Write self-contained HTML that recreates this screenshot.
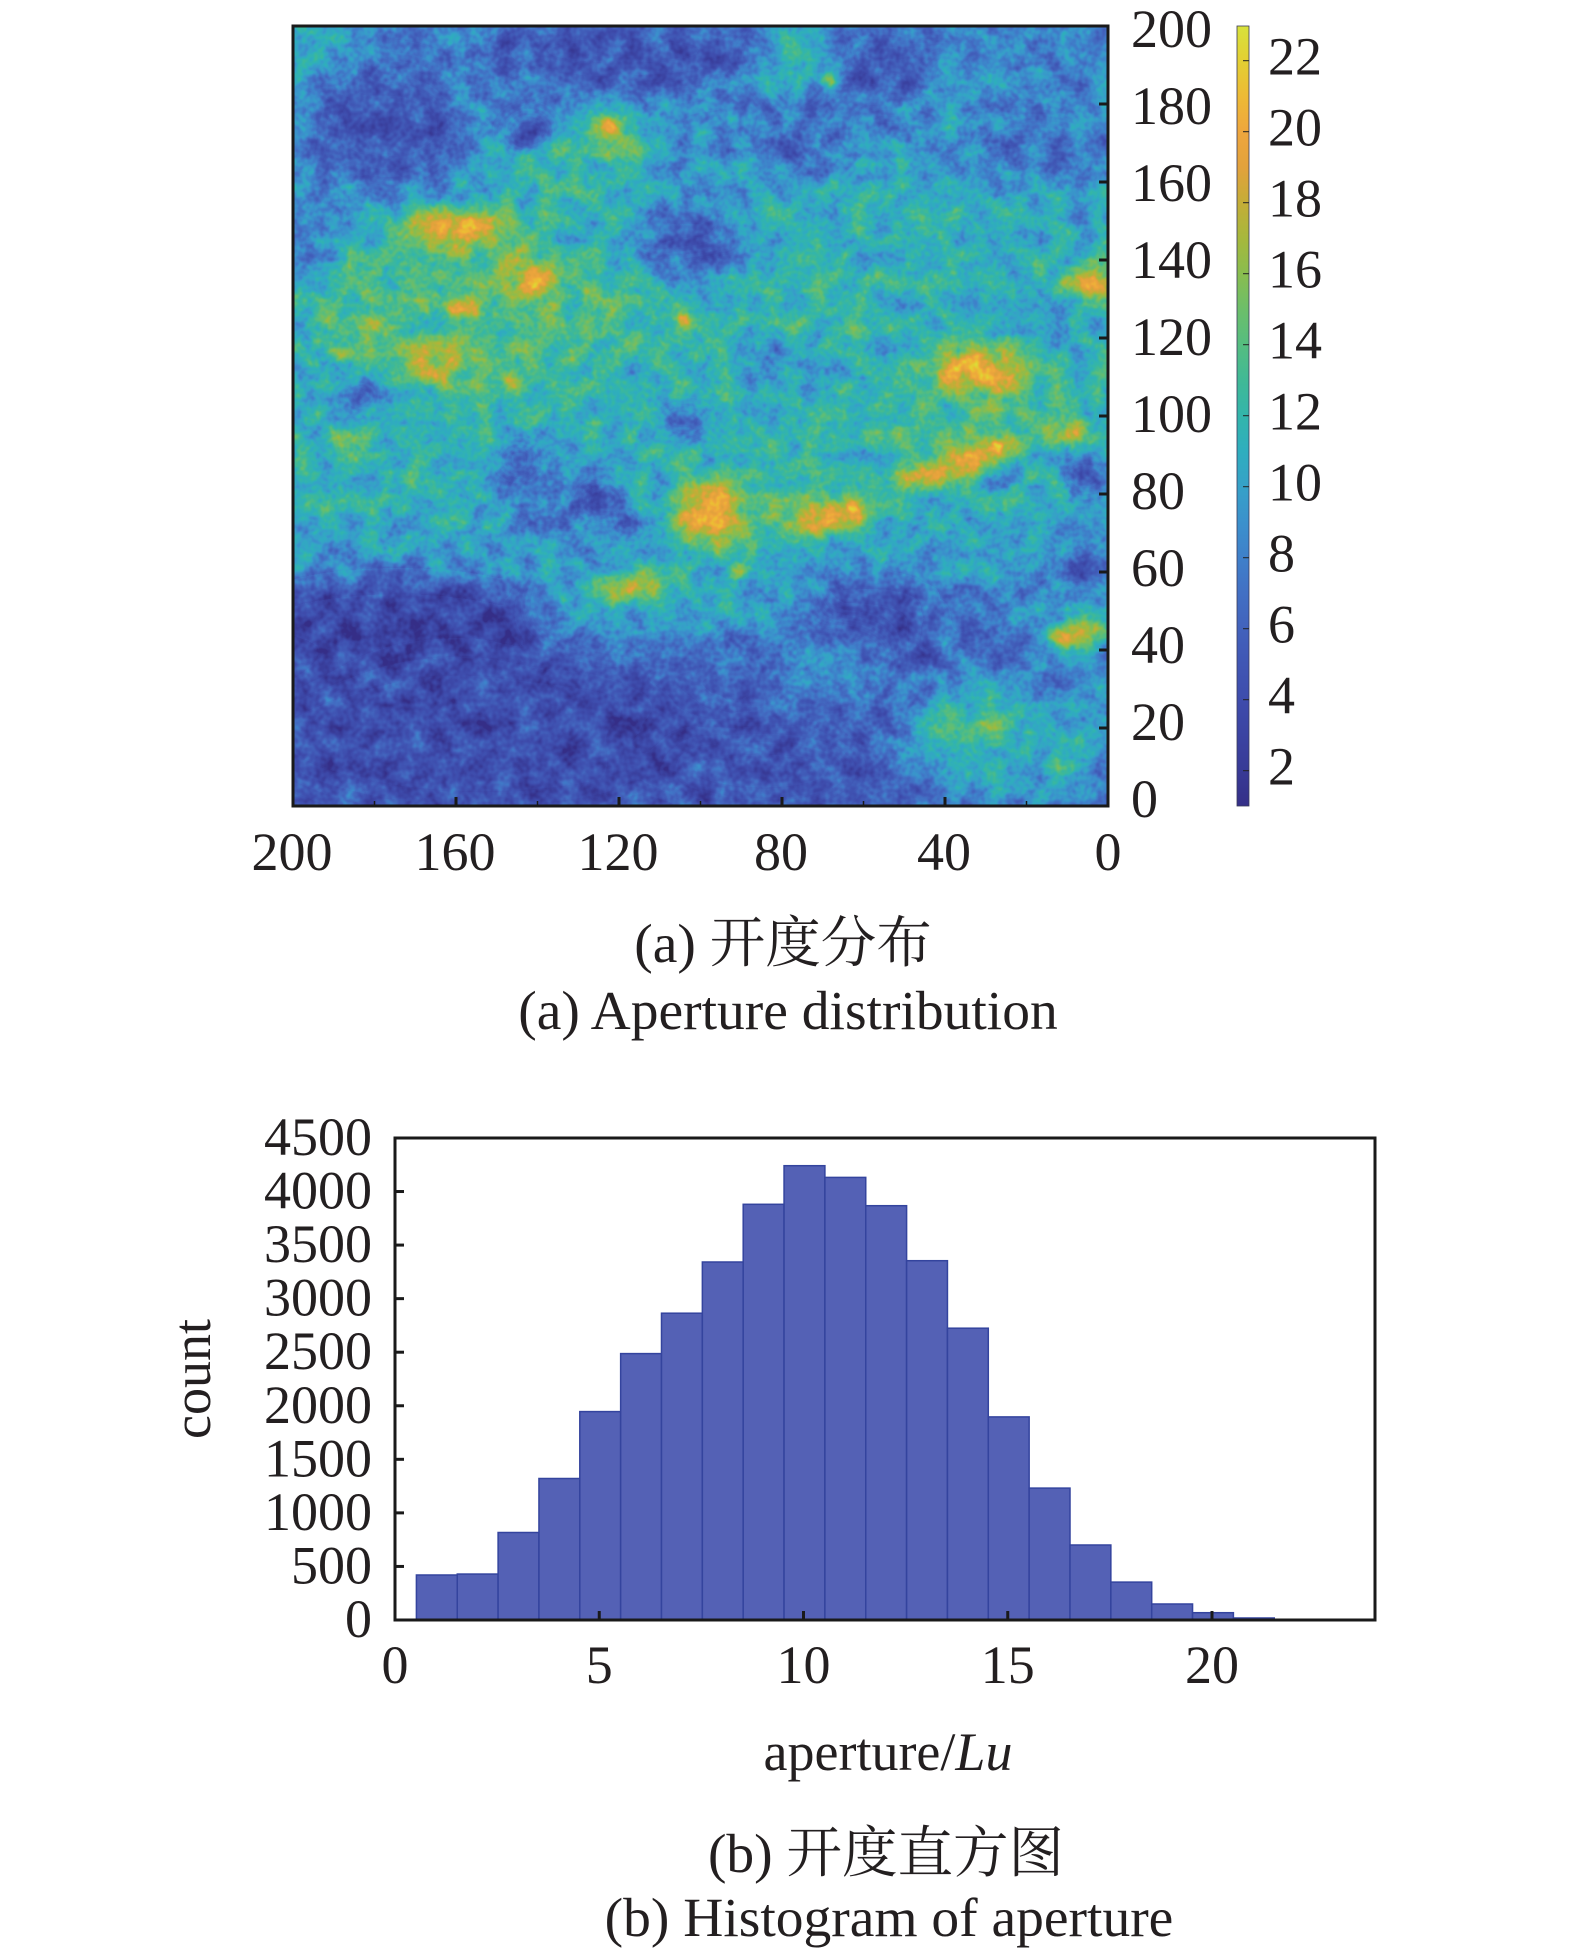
<!DOCTYPE html>
<html>
<head>
<meta charset="utf-8">
<style>
  html, body { margin:0; padding:0; background:#ffffff; }
  body { width:1575px; height:1954px; overflow:hidden; }
  svg { display:block; }
  text { font-family: "Liberation Serif", "Noto Serif CJK SC", serif; font-size:54px; fill:#231f20; }
  text.cap { font-size:55.5px; }
</style>
</head>
<body>
<svg width="1575" height="1954" viewBox="0 0 1575 1954" xmlns="http://www.w3.org/2000/svg">
  <defs>
    <linearGradient id="baseg" gradientUnits="userSpaceOnUse" x1="0" y1="0" x2="0" y2="780">
      <stop offset="0" stop-color="#515151"/>
      <stop offset="0.22" stop-color="#686868"/>
      <stop offset="0.33" stop-color="#7a7a7a"/>
      <stop offset="0.6" stop-color="#7a7a7a"/>
      <stop offset="0.72" stop-color="#5d5d5d"/>
      <stop offset="0.8" stop-color="#3a3a3a"/>
      <stop offset="1" stop-color="#3a3a3a"/>
    </linearGradient>
    <filter id="bA" filterUnits="userSpaceOnUse" x="-100" y="-100" width="1015" height="980"><feGaussianBlur stdDeviation="20"/></filter>
    <filter id="bB" filterUnits="userSpaceOnUse" x="-100" y="-100" width="1015" height="980"><feGaussianBlur stdDeviation="8"/></filter>
    <filter id="bC" filterUnits="userSpaceOnUse" x="-100" y="-100" width="1015" height="980"><feGaussianBlur stdDeviation="4.5"/></filter>
    <filter id="bD" filterUnits="userSpaceOnUse" x="-100" y="-100" width="1015" height="980"><feGaussianBlur stdDeviation="2.5"/></filter>
    <filter id="cm" filterUnits="userSpaceOnUse" x="0" y="0" width="815" height="780" color-interpolation-filters="sRGB">
      <feTurbulence type="fractalNoise" baseFrequency="0.045" numOctaves="3" seed="7" result="n1"/>
      <feColorMatrix in="n1" type="matrix" values="1 0 0 0 0  1 0 0 0 0  1 0 0 0 0  0 0 0 0 1" result="g1"/>
      <feTurbulence type="fractalNoise" baseFrequency="0.22" numOctaves="1" seed="2" result="n2"/>
      <feColorMatrix in="n2" type="matrix" values="0 1 0 0 0  0 1 0 0 0  0 1 0 0 0  0 0 0 0 1" result="g2"/>
      <feComposite in="SourceGraphic" in2="g1" operator="arithmetic" k1="0" k2="1" k3="0.45" k4="-0.225" result="s1"/>
      <feComposite in="s1" in2="g2" operator="arithmetic" k1="0" k2="1" k3="0.18" k4="-0.09" result="s2"/>
      <feComponentTransfer in="s2">
        <feFuncR type="table" tableValues="0.208 0.220 0.231 0.243 0.251 0.259 0.259 0.247 0.231 0.212 0.184 0.200 0.251 0.333 0.424 0.537 0.651 0.769 0.886 0.933 0.929 0.890 0.847"/>
        <feFuncG type="table" tableValues="0.184 0.227 0.263 0.298 0.337 0.384 0.439 0.502 0.569 0.631 0.682 0.710 0.725 0.741 0.745 0.741 0.722 0.678 0.635 0.651 0.729 0.812 0.886"/>
        <feFuncB type="table" tableValues="0.533 0.588 0.635 0.675 0.706 0.737 0.769 0.792 0.800 0.784 0.745 0.671 0.588 0.502 0.416 0.310 0.235 0.216 0.235 0.239 0.208 0.200 0.231"/>
        <feFuncA type="identity"/>
      </feComponentTransfer>
    </filter>
    <linearGradient id="cbar" gradientUnits="userSpaceOnUse" x1="0" y1="806" x2="0" y2="26">
      <stop offset="0.000" stop-color="#352f88"/>
      <stop offset="0.045" stop-color="#383a96"/>
      <stop offset="0.091" stop-color="#3b43a2"/>
      <stop offset="0.136" stop-color="#3e4cac"/>
      <stop offset="0.182" stop-color="#4056b4"/>
      <stop offset="0.227" stop-color="#4262bc"/>
      <stop offset="0.273" stop-color="#4270c4"/>
      <stop offset="0.318" stop-color="#3f80ca"/>
      <stop offset="0.364" stop-color="#3b91cc"/>
      <stop offset="0.409" stop-color="#36a1c8"/>
      <stop offset="0.455" stop-color="#2faebe"/>
      <stop offset="0.500" stop-color="#33b5ab"/>
      <stop offset="0.545" stop-color="#40b996"/>
      <stop offset="0.591" stop-color="#55bd80"/>
      <stop offset="0.636" stop-color="#6cbe6a"/>
      <stop offset="0.682" stop-color="#89bd4f"/>
      <stop offset="0.727" stop-color="#a6b83c"/>
      <stop offset="0.773" stop-color="#c4ad37"/>
      <stop offset="0.818" stop-color="#e2a23c"/>
      <stop offset="0.864" stop-color="#eea63d"/>
      <stop offset="0.909" stop-color="#edba35"/>
      <stop offset="0.955" stop-color="#e3cf33"/>
      <stop offset="1.000" stop-color="#d8e23b"/>
    </linearGradient>
  </defs>

  <rect x="0" y="0" width="1575" height="1954" fill="#ffffff"/>

  <!-- ===== Heatmap ===== -->
  <g transform="translate(293,26)">
    <g filter="url(#cm)">
      <rect x="-60" y="-60" width="935" height="900" fill="url(#baseg)"/>
      <g filter="url(#bA)">
        <!-- mid / green regions -->
        <ellipse cx="280" cy="140" rx="80" ry="45" fill="#858585"/>
        <ellipse cx="505" cy="30" rx="40" ry="30" fill="#8b8b8b"/>
        <ellipse cx="640" cy="50" rx="45" ry="20" fill="#808080"/>
        <ellipse cx="630" cy="180" rx="40" ry="20" fill="#858585"/>
        <ellipse cx="20" cy="15" rx="35" ry="25" fill="#808080"/>
        <ellipse cx="620" cy="190" rx="170" ry="35" fill="#7a7a7a"/>
        <ellipse cx="180" cy="285" rx="170" ry="85" fill="#919191"/>
        <ellipse cx="450" cy="300" rx="120" ry="50" fill="#858585"/>
        <ellipse cx="690" cy="390" rx="110" ry="60" fill="#8b8b8b"/>
        <ellipse cx="480" cy="470" rx="110" ry="45" fill="#8b8b8b"/>
        <ellipse cx="380" cy="575" rx="130" ry="35" fill="#747474"/>
        <ellipse cx="720" cy="710" rx="110" ry="70" fill="#747474"/>
        <ellipse cx="540" cy="640" rx="50" ry="25" fill="#6e6e6e"/>
        <ellipse cx="790" cy="610" rx="40" ry="25" fill="#979797"/>
        <!-- dark regions -->
        <ellipse cx="330" cy="25" rx="150" ry="40" fill="#2e2e2e"/>
        <ellipse cx="95" cy="100" rx="80" ry="60" fill="#2e2e2e"/>
        <ellipse cx="590" cy="40" rx="65" ry="40" fill="#343434"/>
        <ellipse cx="740" cy="125" rx="80" ry="40" fill="#464646"/>
        <ellipse cx="510" cy="115" rx="45" ry="40" fill="#3a3a3a"/>
        <ellipse cx="15" cy="205" rx="25" ry="65" fill="#464646"/>
        <ellipse cx="400" cy="225" rx="55" ry="35" fill="#232323"/>
        <ellipse cx="270" cy="470" rx="70" ry="35" fill="#404040"/>
        <ellipse cx="795" cy="545" rx="35" ry="30" fill="#2e2e2e"/>
        <ellipse cx="745" cy="300" rx="60" ry="20" fill="#5d5d5d"/>
        <ellipse cx="480" cy="335" rx="50" ry="28" fill="#575757"/>
        <ellipse cx="60" cy="375" rx="60" ry="22" fill="#5d5d5d"/>
        <ellipse cx="790" cy="450" rx="25" ry="18" fill="#404040"/>
        <ellipse cx="105" cy="595" rx="150" ry="40" fill="#171717"/>
        <ellipse cx="190" cy="710" rx="230" ry="80" fill="#282828"/>
        <ellipse cx="382" cy="720" rx="55" ry="35" fill="#171717"/>
        <ellipse cx="575" cy="592" rx="72" ry="30" fill="#1d1d1d"/>
        <ellipse cx="470" cy="745" rx="110" ry="45" fill="#2e2e2e"/>
        <ellipse cx="755" cy="657" rx="30" ry="18" fill="#2e2e2e"/>
      </g>
      <g filter="url(#bB)">
        <!-- halos -->
        <ellipse cx="170" cy="205" rx="70" ry="25" fill="#aeaeae"/>
        <ellipse cx="235" cy="255" rx="35" ry="28" fill="#aeaeae"/>
        <ellipse cx="150" cy="337" rx="45" ry="32" fill="#a2a2a2"/>
        <ellipse cx="690" cy="345" rx="55" ry="32" fill="#aeaeae"/>
        <ellipse cx="670" cy="435" rx="70" ry="20" fill="#aeaeae" transform="rotate(-15 670 435)"/>
        <ellipse cx="420" cy="490" rx="42" ry="40" fill="#aeaeae"/>
        <ellipse cx="535" cy="490" rx="60" ry="18" fill="#a8a8a8" transform="rotate(-10 535 490)"/>
        <ellipse cx="800" cy="257" rx="30" ry="20" fill="#aeaeae"/>
        <ellipse cx="340" cy="560" rx="45" ry="16" fill="#a2a2a2"/>
        <ellipse cx="320" cy="110" rx="22" ry="30" fill="#a2a2a2"/>
        <ellipse cx="680" cy="700" rx="55" ry="12" fill="#a2a2a2"/>
        <!-- dark spots -->
        <ellipse cx="235" cy="105" rx="25" ry="20" fill="#2e2e2e"/>
        <ellipse cx="390" cy="393" rx="25" ry="13" fill="#292929"/>
        <ellipse cx="68" cy="370" rx="15" ry="12" fill="#2e2e2e"/>
        <ellipse cx="226" cy="434" rx="18" ry="14" fill="#292929"/>
        <ellipse cx="310" cy="474" rx="22" ry="13" fill="#292929"/>
        <ellipse cx="335" cy="498" rx="12" ry="12" fill="#2e2e2e"/>
        <ellipse cx="792" cy="450" rx="22" ry="14" fill="#292929"/>
        <ellipse cx="710" cy="449" rx="18" ry="9" fill="#2e2e2e"/>
      </g>
      <g filter="url(#bC)">
        <ellipse cx="165" cy="203" rx="38" ry="12" fill="#d6d6d6"/>
        <ellipse cx="240" cy="255" rx="17" ry="15" fill="#d1d1d1"/>
        <ellipse cx="172" cy="282" rx="18" ry="10" fill="#cbcbcb"/>
        <ellipse cx="320" cy="103" rx="8" ry="12" fill="#d1d1d1"/>
        <ellipse cx="145" cy="337" rx="25" ry="18" fill="#bfbfbf"/>
        <ellipse cx="220" cy="352" rx="10" ry="10" fill="#c5c5c5"/>
        <ellipse cx="687" cy="345" rx="32" ry="18" fill="#d6d6d6"/>
        <ellipse cx="670" cy="435" rx="48" ry="10" fill="#d1d1d1" transform="rotate(-15 670 435)"/>
        <ellipse cx="415" cy="485" rx="25" ry="25" fill="#d6d6d6"/>
        <ellipse cx="530" cy="492" rx="40" ry="10" fill="#d1d1d1" transform="rotate(-10 530 492)"/>
        <ellipse cx="805" cy="257" rx="18" ry="11" fill="#d6d6d6"/>
        <ellipse cx="343" cy="560" rx="28" ry="8" fill="#b9b9b9"/>
        <ellipse cx="785" cy="608" rx="28" ry="14" fill="#b9b9b9"/>
        <circle cx="536" cy="55" r="6" fill="#c5c5c5"/>
        <circle cx="567" cy="140" r="7" fill="#bfbfbf"/>
        <circle cx="390" cy="294" r="6" fill="#d1d1d1"/>
        <circle cx="343" cy="275" r="6" fill="#c5c5c5"/>
        <ellipse cx="770" cy="405" rx="20" ry="12" fill="#b9b9b9"/>
        <ellipse cx="57" cy="412" rx="25" ry="9" fill="#b4b4b4"/>
        <ellipse cx="55" cy="328" rx="22" ry="5" fill="#aeaeae"/>
        <circle cx="447" cy="545" r="8" fill="#b9b9b9"/>
        <circle cx="627" cy="340" r="6" fill="#d1d1d1"/>
      </g>
      <g filter="url(#bD)">
        <circle cx="177" cy="200" r="7" fill="#eeeeee"/>
        <circle cx="700" cy="348" r="8" fill="#f3f3f3"/>
        <circle cx="702" cy="422" r="6" fill="#eeeeee"/>
        <circle cx="425" cy="495" r="7" fill="#e8e8e8"/>
        <circle cx="560" cy="482" r="6" fill="#e8e8e8"/>
        <circle cx="240" cy="258" r="5" fill="#dcdcdc"/>
        <circle cx="320" cy="100" r="4" fill="#e2e2e2"/>
      </g>
    </g>
  </g>
  <!-- heatmap frame & ticks -->
  <rect x="293" y="26" width="815" height="780" fill="none" stroke="#1a1a1a" stroke-width="3"/>
  <g stroke="#1a1a1a" stroke-width="3">
    <line x1="456" y1="806" x2="456" y2="797"/>
    <line x1="619" y1="806" x2="619" y2="797"/>
    <line x1="782" y1="806" x2="782" y2="797"/>
    <line x1="945" y1="806" x2="945" y2="797"/>
    <line x1="1108" y1="728" x2="1099" y2="728"/>
    <line x1="1108" y1="650" x2="1099" y2="650"/>
    <line x1="1108" y1="572" x2="1099" y2="572"/>
    <line x1="1108" y1="494" x2="1099" y2="494"/>
    <line x1="1108" y1="416" x2="1099" y2="416"/>
    <line x1="1108" y1="338" x2="1099" y2="338"/>
    <line x1="1108" y1="260" x2="1099" y2="260"/>
    <line x1="1108" y1="182" x2="1099" y2="182"/>
    <line x1="1108" y1="104" x2="1099" y2="104"/>
  </g>
  <g stroke="#1a1a1a" stroke-width="1.5">
    <line x1="374.5" y1="806" x2="374.5" y2="801"/>
    <line x1="537.5" y1="806" x2="537.5" y2="801"/>
    <line x1="700.5" y1="806" x2="700.5" y2="801"/>
    <line x1="863.5" y1="806" x2="863.5" y2="801"/>
    <line x1="1026.5" y1="806" x2="1026.5" y2="801"/>
  </g>
  <!-- right axis labels -->
  <g text-anchor="start">
    <text x="1131" y="817">0</text>
    <text x="1131" y="740">20</text>
    <text x="1131" y="663">40</text>
    <text x="1131" y="586">60</text>
    <text x="1131" y="509">80</text>
    <text x="1131" y="432">100</text>
    <text x="1131" y="355">120</text>
    <text x="1131" y="278">140</text>
    <text x="1131" y="201">160</text>
    <text x="1131" y="124">180</text>
    <text x="1131" y="47">200</text>
  </g>
  <!-- bottom axis labels -->
  <g text-anchor="middle">
    <text x="292" y="870">200</text>
    <text x="455" y="870">160</text>
    <text x="618" y="870">120</text>
    <text x="781" y="870">80</text>
    <text x="944" y="870">40</text>
    <text x="1108" y="870">0</text>
  </g>

  <!-- colorbar -->
  <rect x="1237" y="26" width="12" height="780" fill="url(#cbar)" stroke="#3a3a5a" stroke-width="0.8"/>
  <g stroke="#222" stroke-width="1">
    <line x1="1243" y1="770.7" x2="1249" y2="770.7"/>
    <line x1="1243" y1="699.7" x2="1249" y2="699.7"/>
    <line x1="1243" y1="628.7" x2="1249" y2="628.7"/>
    <line x1="1243" y1="557.7" x2="1249" y2="557.7"/>
    <line x1="1243" y1="486.7" x2="1249" y2="486.7"/>
    <line x1="1243" y1="415.7" x2="1249" y2="415.7"/>
    <line x1="1243" y1="344.7" x2="1249" y2="344.7"/>
    <line x1="1243" y1="273.7" x2="1249" y2="273.7"/>
    <line x1="1243" y1="202.7" x2="1249" y2="202.7"/>
    <line x1="1243" y1="131.7" x2="1249" y2="131.7"/>
    <line x1="1243" y1="60.7" x2="1249" y2="60.7"/>
  </g>
  <g text-anchor="start">
    <text x="1268" y="784.7">2</text>
    <text x="1268" y="713.7">4</text>
    <text x="1268" y="642.7">6</text>
    <text x="1268" y="571.7">8</text>
    <text x="1268" y="500.7">10</text>
    <text x="1268" y="429.7">12</text>
    <text x="1268" y="358.7">14</text>
    <text x="1268" y="287.7">16</text>
    <text x="1268" y="216.7">18</text>
    <text x="1268" y="145.7">20</text>
    <text x="1268" y="74.7">22</text>
  </g>

  <!-- captions (a) -->
  <text class="cap" x="783" y="962" text-anchor="middle">(a) 开度分布</text>
  <text class="cap" x="788" y="1029" text-anchor="middle">(a) Aperture distribution</text>

  <!-- ===== Histogram ===== -->
  <g fill="#5461b5" stroke="#34449e" stroke-width="1.5">
    <rect x="416.4" y="1575.0" width="40.85" height="45.0"/>
    <rect x="457.25" y="1574.05" width="40.85" height="45.95"/>
    <rect x="498.1" y="1532.5" width="40.85" height="87.5"/>
    <rect x="538.95" y="1478.5" width="40.85" height="141.5"/>
    <rect x="579.8" y="1411.6" width="40.85" height="208.4"/>
    <rect x="620.65" y="1353.6" width="40.85" height="266.4"/>
    <rect x="661.5" y="1313.2" width="40.85" height="306.8"/>
    <rect x="702.35" y="1262.0" width="40.85" height="358.0"/>
    <rect x="743.2" y="1204.3" width="40.85" height="415.7"/>
    <rect x="784.05" y="1165.7" width="40.85" height="454.3"/>
    <rect x="824.9" y="1177.4" width="40.85" height="442.6"/>
    <rect x="865.75" y="1205.7" width="40.85" height="414.3"/>
    <rect x="906.6" y="1260.7" width="40.85" height="359.3"/>
    <rect x="947.45" y="1328.2" width="40.85" height="291.8"/>
    <rect x="988.3" y="1416.9" width="40.85" height="203.1"/>
    <rect x="1029.15" y="1488.1" width="40.85" height="131.9"/>
    <rect x="1070.0" y="1545.0" width="40.85" height="75.0"/>
    <rect x="1110.85" y="1582.1" width="40.85" height="37.9"/>
    <rect x="1151.7" y="1604.0" width="40.85" height="16.0"/>
    <rect x="1192.55" y="1612.7" width="40.85" height="7.3"/>
    <rect x="1233.4" y="1618.0" width="40.85" height="2.0"/>
  </g>
  <rect x="395" y="1138" width="980" height="482" fill="none" stroke="#1a1a1a" stroke-width="3"/>
  <g stroke="#1a1a1a" stroke-width="3">
    <line x1="395" y1="1566.44" x2="404" y2="1566.44"/>
    <line x1="395" y1="1512.88" x2="404" y2="1512.88"/>
    <line x1="395" y1="1459.32" x2="404" y2="1459.32"/>
    <line x1="395" y1="1405.76" x2="404" y2="1405.76"/>
    <line x1="395" y1="1352.2" x2="404" y2="1352.2"/>
    <line x1="395" y1="1298.64" x2="404" y2="1298.64"/>
    <line x1="395" y1="1245.08" x2="404" y2="1245.08"/>
    <line x1="395" y1="1191.52" x2="404" y2="1191.52"/>
    <line x1="599.25" y1="1620" x2="599.25" y2="1611"/>
    <line x1="803.5" y1="1620" x2="803.5" y2="1611"/>
    <line x1="1007.75" y1="1620" x2="1007.75" y2="1611"/>
    <line x1="1212" y1="1620" x2="1212" y2="1611"/>
  </g>
  <g text-anchor="end">
    <text x="372" y="1637">0</text>
    <text x="372" y="1583.4">500</text>
    <text x="372" y="1529.9">1000</text>
    <text x="372" y="1476.3">1500</text>
    <text x="372" y="1422.8">2000</text>
    <text x="372" y="1369.2">2500</text>
    <text x="372" y="1315.6">3000</text>
    <text x="372" y="1262.1">3500</text>
    <text x="372" y="1208.5">4000</text>
    <text x="372" y="1155">4500</text>
  </g>
  <g text-anchor="middle">
    <text x="395" y="1683">0</text>
    <text x="599.25" y="1683">5</text>
    <text x="803.5" y="1683">10</text>
    <text x="1007.75" y="1683">15</text>
    <text x="1212" y="1683">20</text>
  </g>
  <text transform="translate(210,1379) rotate(-90)" text-anchor="middle">count</text>
  <text x="888" y="1770" text-anchor="middle">aperture/<tspan font-style="italic">Lu</tspan></text>

  <!-- captions (b) -->
  <text class="cap" x="886" y="1872" text-anchor="middle">(b) 开度直方图</text>
  <text class="cap" x="889" y="1936" text-anchor="middle">(b) Histogram of aperture</text>
</svg>
</body>
</html>
